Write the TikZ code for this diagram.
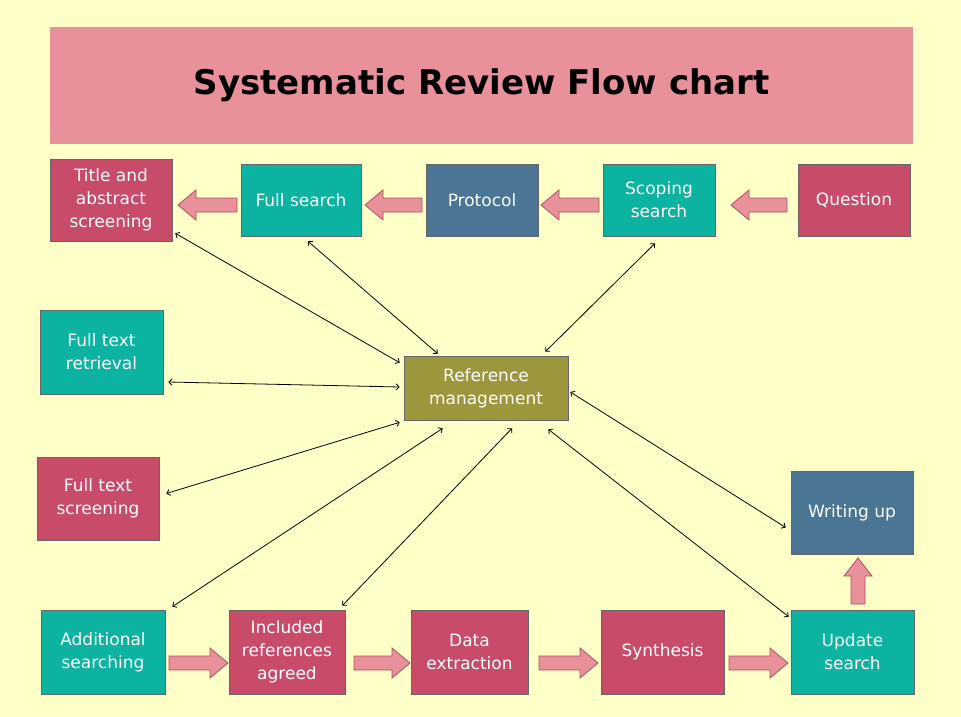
\documentclass[tikz,border=0pt]{standalone}
\usepackage{fontspec}
\setmainfont{DejaVu Sans}
\usetikzlibrary{arrows.meta,calc}
\definecolor{bg}{HTML}{FFFFC8}
\definecolor{ttl}{HTML}{E8919B}
\definecolor{rasp}{HTML}{C84C6A}
\definecolor{teal}{HTML}{0BB3A0}
\definecolor{blu}{HTML}{4A7594}
\definecolor{olv}{HTML}{9C963C}
\definecolor{arf}{HTML}{E8919B}
\definecolor{ard}{HTML}{B0505E}
\tikzset{
 box/.style={draw=black!60,line width=0.6pt,text=white,align=center,font=\fontsize{17}{23}\selectfont,inner sep=0pt},
 dbl/.style={Straight Barb-Straight Barb,line width=0.8pt,black},
 blk/.style={fill=arf,draw=ard,line width=0.8pt}
}
% horizontal block arrow: x-start, x-end, y
\newcommand{\hblk}[3]{\draw[blk] ({#1},{#3-7}) -- ({#2-18*sign(#2-#1)},{#3-7}) -- ({#2-18*sign(#2-#1)},{#3-15}) -- ({#2},{#3}) -- ({#2-18*sign(#2-#1)},{#3+15}) -- ({#2-18*sign(#2-#1)},{#3+7}) -- ({#1},{#3+7}) -- cycle;}
\begin{document}
\begin{tikzpicture}[x=1pt,y=-1pt]
\fill[bg] (0,0) rectangle (961,717);
\useasboundingbox (0,0) rectangle (961,717);
\node[fill=ttl,minimum width=863pt,minimum height=117pt,inner sep=0pt,font=\fontsize{34}{40}\selectfont\bfseries] (title) at (481.5,85.5) {Systematic Review Flow chart};
\node[box,fill=rasp,minimum width=122pt,minimum height=82pt] (tas) at (111,200) {Title and\\abstract\\screening};
\node[box,fill=teal,minimum width=120pt,minimum height=72pt] (fs) at (301,200) {Full search};
\node[box,fill=blu,minimum width=112pt,minimum height=72pt] (pr) at (482,200) {Protocol};
\node[box,fill=teal,minimum width=112pt,minimum height=72pt] (ss) at (659,200) {Scoping\\search};
\node[box,fill=rasp,minimum width=112pt,minimum height=72pt] (q) at (854,200) {Question};
\node[box,fill=teal,minimum width=123pt,minimum height=84pt] (ftr) at (101.5,352) {Full text\\retrieval};
\node[box,fill=olv,minimum width=164pt,minimum height=64pt] (rm) at (486,388) {Reference\\management};
\node[box,fill=rasp,minimum width=122pt,minimum height=83pt] (fts) at (98,498.5) {Full text\\screening};
\node[box,fill=blu,minimum width=122pt,minimum height=83pt] (wu) at (852,512.5) {Writing up};
\node[box,fill=teal,minimum width=124pt,minimum height=84pt] (as) at (103,652) {Additional\\searching};
\node[box,fill=rasp,minimum width=116pt,minimum height=84pt] (ira) at (287,652) {Included\\references\\agreed};
\node[box,fill=rasp,minimum width=117pt,minimum height=84pt] (de) at (469.5,652) {Data\\extraction};
\node[box,fill=rasp,minimum width=123pt,minimum height=84pt] (syn) at (662.5,652) {Synthesis};
\node[box,fill=teal,minimum width=123pt,minimum height=84pt] (us) at (852.5,652) {Update\\search};
% block arrows
\hblk{237}{178}{205}
\hblk{422}{365}{205}
\hblk{599}{541}{205}
\hblk{787}{731}{205}
\hblk{169}{228}{663}
\hblk{354}{410}{663}
\hblk{539}{598}{663}
\hblk{729}{788}{663}
\draw[blk] (851,604) -- (851,576) -- (844,576) -- (858,558) -- (872,576) -- (865,576) -- (865,604) -- cycle;
% double arrows
\draw[dbl] ($(tas.south east)+(3,-8)$) -- ($(rm.north west)+(-4,7)$);
\draw[dbl] ($(fs.south)+(7,5)$) -- ($(rm.north west)+(34,-2)$);
\draw[dbl] ($(ss.south)+(-4,7)$) -- ($(rm.north east)+(-23,-4)$);
\draw[dbl] ($(ftr.east)+(5,30)$) -- ($(rm.west)+(-4,-1)$);
\draw[dbl] ($(fts.east)+(7,-5)$) -- ($(rm.south west)+(-4,2)$);
\draw[dbl] ($(as.north east)+(7,-3)$) -- ($(rm.south west)+(39,8)$);
\draw[dbl] ($(ira.north east)+(-3,-4)$) -- ($(rm.south)+(26,8)$);
\draw[dbl] ($(rm.south east)+(-20,9)$) -- ($(us.north west)+(-2,7)$);
\draw[dbl] ($(rm.east)+(2,4)$) -- ($(wu.west)+(-5,15)$);
\end{tikzpicture}
\end{document}
